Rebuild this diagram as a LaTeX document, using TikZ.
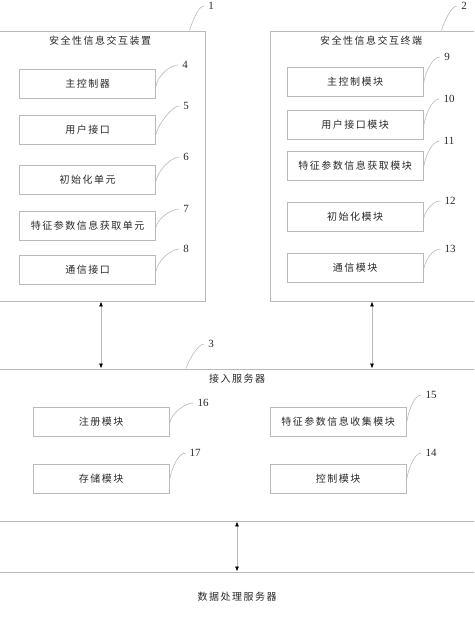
\documentclass[tikz,border=0pt]{standalone}
\usepackage{fontspec}
\setmainfont{Liberation Serif}
\newfontfamily\cjk{Noto Sans CJK SC}[LetterSpace=15]
\usepackage{tikz}
\usetikzlibrary{arrows.meta}
\definecolor{framegray}{RGB}{185,185,185}
\definecolor{inkgray}{RGB}{40,40,40}
\tikzset{
  frame/.style={draw=framegray,line width=0.9pt,inner sep=0pt},
  unit/.style={draw=framegray,line width=0.8pt,minimum width=136pt,minimum height=29pt,inner sep=0pt,font=\cjk\fontsize{10}{12}\selectfont,text=inkgray},
  title/.style={font=\cjk\fontsize{10}{12}\selectfont,text=inkgray,inner sep=0pt},
  tag/.style={font=\fontsize{11}{13}\selectfont,text=inkgray,inner sep=4pt},
  lead/.style={draw=framegray,line width=0.6pt},
  link/.style={draw=framegray,line width=0.8pt,{Latex[black,length=5pt,width=4pt]}-{Latex[black,length=5pt,width=4pt]}}
}
\begin{document}
\begin{tikzpicture}[x=1pt,y=-1pt]
\useasboundingbox (0,0) rectangle (474,623);
\clip (0,0) rectangle (474,623);
\node[frame,minimum width=208pt,minimum height=270pt] (dev) at (101,166) {};
\node[frame,minimum width=206pt,minimum height=270pt] (term) at (373,166) {};
\node[frame,minimum width=482pt,minimum height=152pt] (acc) at (237,445) {};
\node[frame,minimum width=482pt,minimum height=56pt] (dps) at (237,600) {};
\node[title] (devt) at (100,41) {安全性信息交互装置};
\node[title] (termt) at (371,41) {安全性信息交互终端};
\node[title] (acct) at (237,379) {接入服务器};
\node[title] (dpst) at (237,597) {数据处理服务器};
\node[tag] (t1) at (211,6) {1};
\node[tag] (t2) at (464,6) {2};
\node[tag] (t3) at (211,344) {3};
\draw[lead] ([xshift=-16pt]dev.north east) .. controls +(3,-9) and +(-6,0) .. (t1.west);
\draw[lead] ([xshift=-35pt]term.north east) .. controls +(3,-9) and +(-6,0) .. (t2.west);
\draw[lead] ([xshift=-51pt]acc.north) .. controls +(3,-9) and +(-6,0) .. (t3.west);
\node[unit] (u4) at (87.5,83.5) {主控制器};
\node[unit] (u5) at (87.5,129.5) {用户接口};
\node[unit] (u6) at (87.5,179.5) {初始化单元};
\node[unit] (u7) at (87.5,225.5) {特征参数信息获取单元};
\node[unit] (u8) at (87.5,269.5) {通信接口};
\node[tag] (t4) at (185,65) {4};
\node[tag] (t5) at (186,106) {5};
\node[tag] (t6) at (186,157) {6};
\node[tag] (t7) at (186,209) {7};
\node[tag] (t8) at (186,249) {8};
\draw[lead] ([yshift=-3pt]u4.east) .. controls +(2,-12) and +(-7,0) .. (t4.west);
\draw[lead] ([yshift=-5pt]u5.east) .. controls +(2,-10) and +(-7,0) .. (t5.west);
\draw[lead] ([yshift=-2pt]u6.east) .. controls +(2,-12) and +(-7,0) .. (t6.west);
\draw[lead] ([yshift=-2pt]u7.east) .. controls +(2,-10) and +(-7,0) .. (t7.west);
\draw[lead] ([yshift=-2pt]u8.east) .. controls +(2,-12) and +(-7,0) .. (t8.west);
\node[unit] (u9) at (355,81.5) {主控制模块};
\node[unit] (u10) at (355,124.5) {用户接口模块};
\node[unit] (u11) at (355,165.5) {特征参数信息获取模块};
\node[unit] (u12) at (355,216.5) {初始化模块};
\node[unit] (u13) at (355,267.5) {通信模块};
\node[tag] (t9) at (447,57) {9};
\node[tag] (t10) at (449,99) {10};
\node[tag] (t11) at (449,141) {11};
\node[tag] (t12) at (450,201) {12};
\node[tag] (t13) at (450,249) {13};
\draw[lead] ([yshift=-3pt]u9.east) .. controls +(2,-14) and +(-7,0) .. (t9.west);
\draw[lead] ([yshift=-3pt]u10.east) .. controls +(2,-14) and +(-7,0) .. (t10.west);
\draw[lead] ([yshift=-3pt]u11.east) .. controls +(2,-14) and +(-7,0) .. (t11.west);
\draw[lead] ([yshift=-3pt]u12.east) .. controls +(2,-10) and +(-7,0) .. (t12.west);
\draw[lead] ([yshift=-3pt]u13.east) .. controls +(2,-12) and +(-7,0) .. (t13.west);
\node[unit] (u16) at (101,422) {注册模块};
\node[unit] (u15) at (338,422) {特征参数信息收集模块};
\node[unit] (u17) at (101,478.5) {存储模块};
\node[unit] (u14) at (338,478.5) {控制模块};
\node[tag] (t16) at (203,403) {16};
\node[tag] (t15) at (431,395) {15};
\node[tag] (t17) at (195,453) {17};
\node[tag] (t14) at (431,453) {14};
\draw[lead] ([yshift=-2pt]u16.east) .. controls +(2,-12) and +(-7,0) .. (t16.west);
\draw[lead] ([yshift=-2pt]u15.east) .. controls +(2,-14) and +(-7,0) .. (t15.west);
\draw[lead] ([yshift=-2pt]u17.east) .. controls +(2,-12) and +(-7,0) .. (t17.west);
\draw[lead] ([yshift=-2pt]u14.east) .. controls +(2,-12) and +(-7,0) .. (t14.west);
\draw[link] (dev.south) -- (dev.south |- acc.north);
\draw[link] ([xshift=-1pt]term.south) -- ([xshift=-1pt]term.south |- acc.north);
\draw[link] (acc.south) -- (dps.north);
\end{tikzpicture}
\end{document}
